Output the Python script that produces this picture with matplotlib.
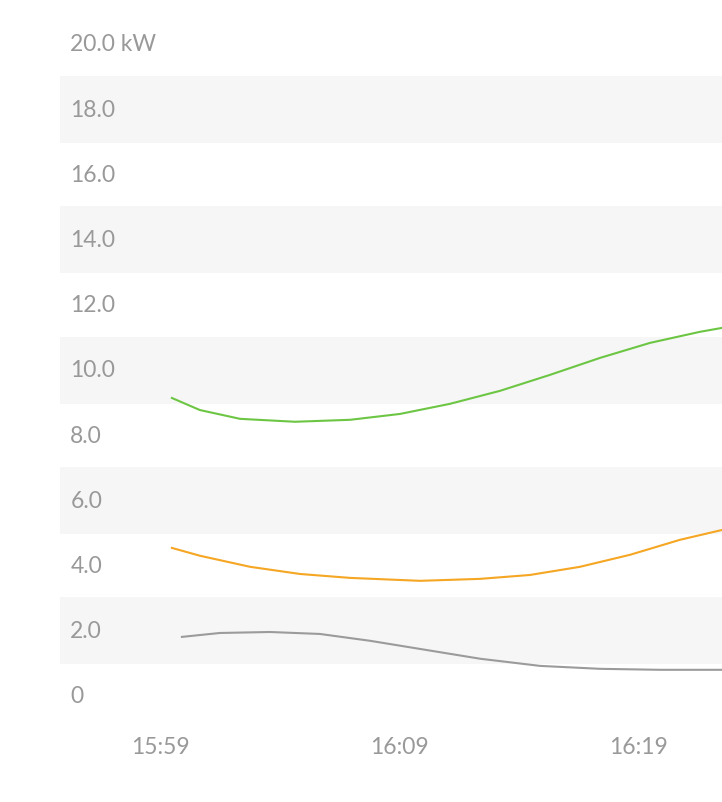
import matplotlib.pyplot as plt

# minutes after 15:59
green_x = [0.5, 1.67, 3.35, 5.65, 7.95, 10.04, 12.13, 14.23, 16.32, 18.41, 20.5, 22.59, 23.51]
green_y = [9.17, 8.80, 8.53, 8.44, 8.50, 8.68, 8.99, 9.39, 9.88, 10.40, 10.86, 11.20, 11.32]
orange_x = [0.5, 1.67, 3.77, 5.86, 7.95, 10.88, 13.39, 15.48, 17.57, 19.67, 21.76, 23.51]
orange_y = [4.57, 4.33, 3.99, 3.77, 3.65, 3.56, 3.62, 3.74, 3.99, 4.36, 4.82, 5.12]
grey_x = [0.92, 2.51, 4.60, 6.69, 8.79, 10.88, 13.39, 15.9, 18.41, 20.92, 23.51]
grey_y = [1.84, 1.96, 1.99, 1.93, 1.72, 1.47, 1.17, 0.95, 0.86, 0.83, 0.83]

y_ticks = [0, 2, 4, 6, 8, 10, 12, 14, 16, 18, 20]
y_labels = ["0", "2.0", "4.0", "6.0", "8.0", "10.0", "12.0", "14.0", "16.0", "18.0", "20.0 kW"]
x_ticks = [0, 10, 20]
x_labels = ["15:59", "16:09", "16:19"]

plt.rcParams['font.family'] = ['Lato', 'DejaVu Sans']
fig = plt.figure(figsize=(7.22, 8.02), dpi=100)
ax = fig.add_axes([60/722, 82/802, 662/722, 720/802])
ax.set_xlim(-4.18, 23.51)
ax.set_ylim(-0.71, 21.38)
ax.axis('off')

# shaded bands
for lo in [1, 5, 9, 13, 17]:
    ax.axhspan(lo, lo + 2.05, color='#f6f6f6', zorder=0, lw=0)

for v, lab in zip(y_ticks, y_labels):
    ax.text(-3.75, v, lab, color='#999999', fontsize=16.5, va='center', ha='left')
for v, lab in zip(x_ticks, x_labels):
    ax.text(v, -1.55, lab, color='#999999', fontsize=16.5, va='center', ha='center', clip_on=False)

ax.plot(green_x, green_y, color='#6cc644', lw=1.5)
ax.plot(orange_x, orange_y, color='#f5a623', lw=1.5)
ax.plot(grey_x, grey_y, color='#9b9b9b', lw=1.5)

fig.savefig("out.png", dpi=100)
